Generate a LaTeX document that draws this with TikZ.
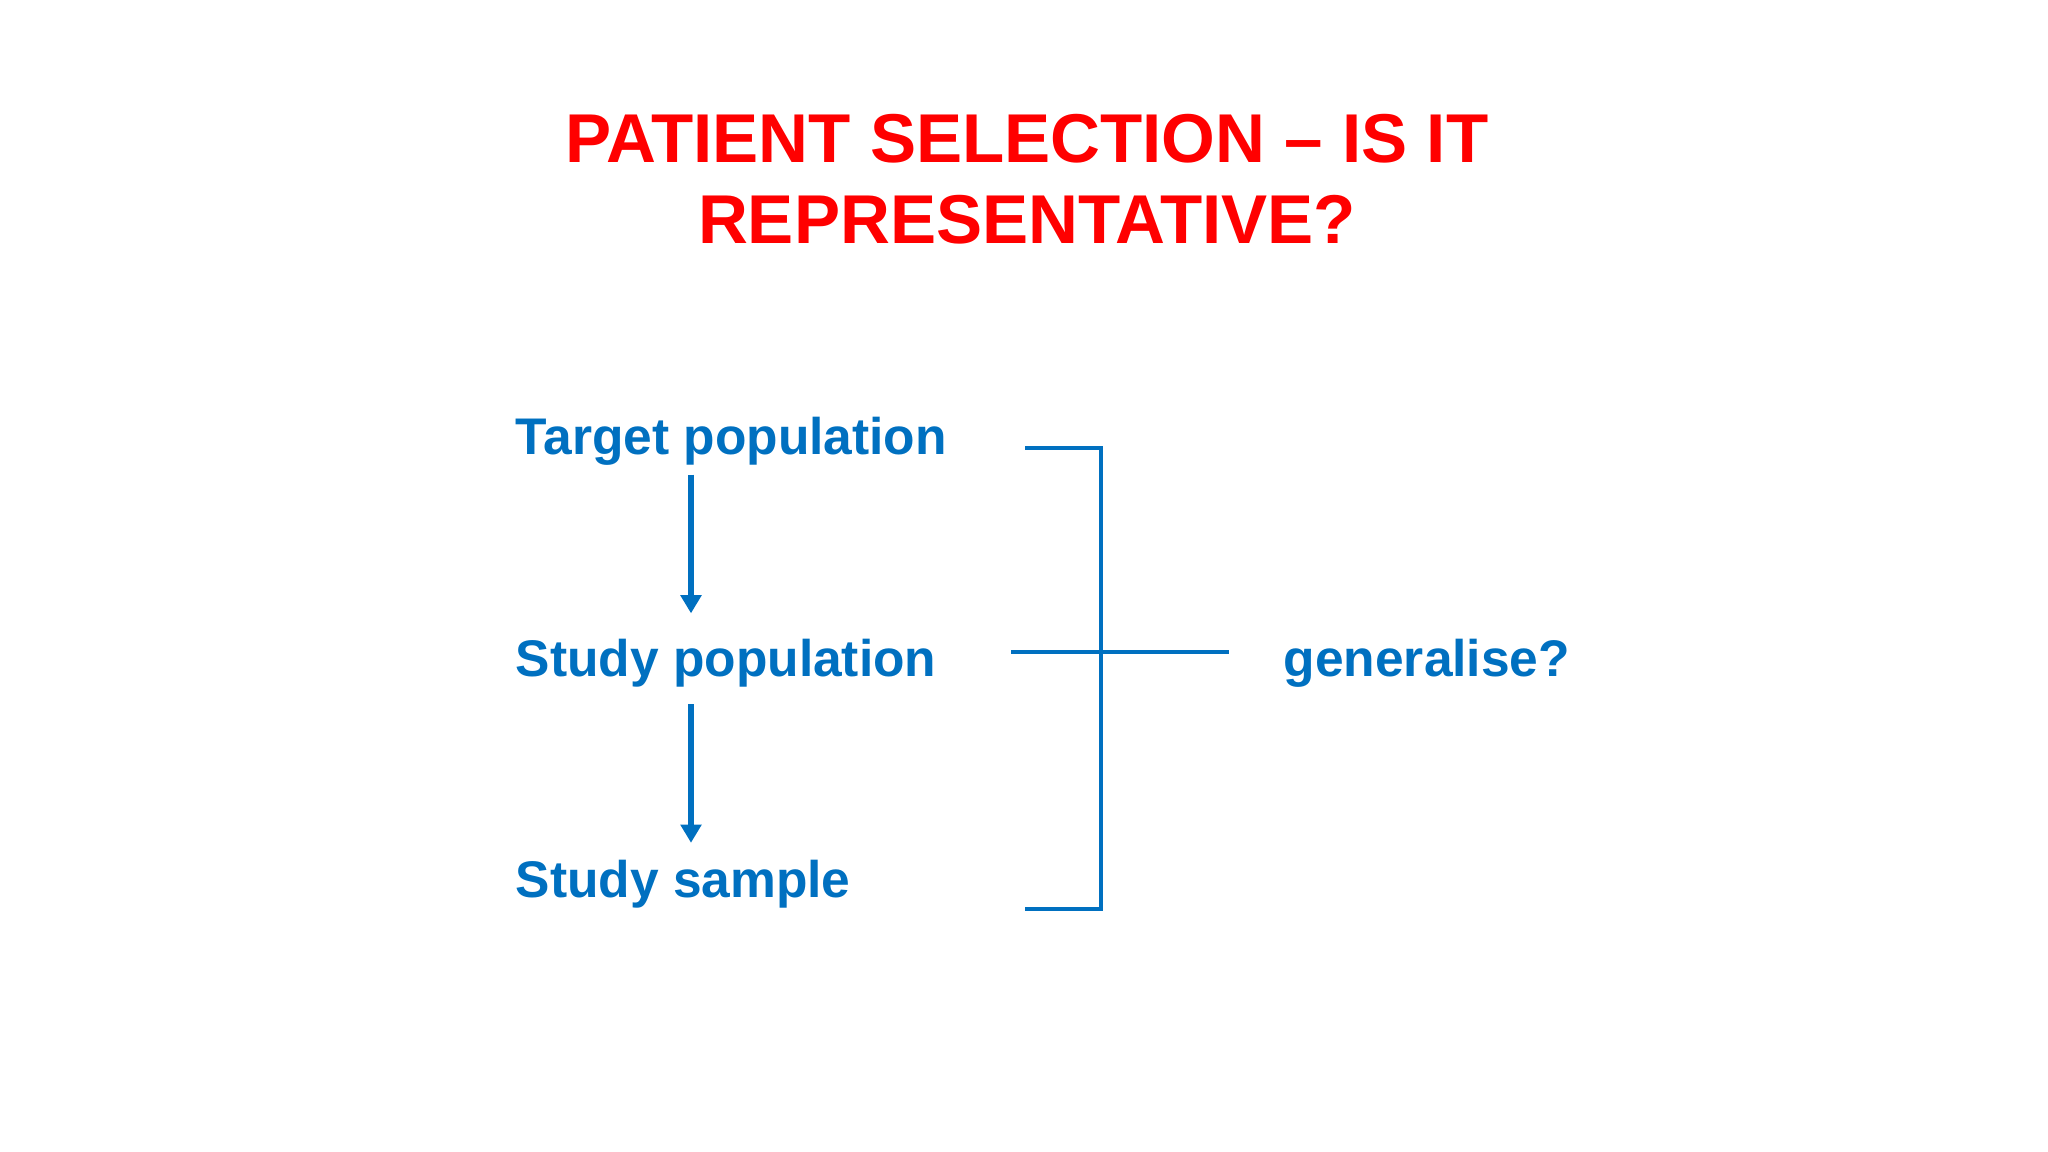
\documentclass[tikz,border=0pt]{standalone}
\usepackage{fontspec}
\setmainfont{Liberation Sans}
\usepackage{tikz}
\usetikzlibrary{arrows.meta}
\usetikzlibrary{positioning}

\definecolor{slideblue}{HTML}{0070C0}
\definecolor{slidered}{HTML}{FF0000}

\tikzset{
    titletext/.style={anchor=base,inner sep=0pt,text=slidered,
        font=\fontsize{19.65}{23}\selectfont\bfseries},
    labeltext/.style={anchor=base west,inner sep=0pt,text=slideblue,
        font=\fontsize{14.65}{17}\selectfont\bfseries},
    bline/.style={draw=slideblue,line width=1.35pt},
    darrow/.style={draw=slideblue,line width=1.9pt,-{Triangle[width=5.8pt,length=5.2pt]}}
}

\begin{document}
\begin{tikzpicture}[x=0.01cm,y=-0.01cm]
            \useasboundingbox (0,0) rectangle (2048,1152);

            % title
            \node[titletext] (title1) at (1027,163) {PATIENT SELECTION – IS IT};
            \node[titletext] (title2) at (1027,244) {REPRESENTATIVE?};

            % the three populations
            \foreach \nm/\y/\lab in {tgt/455/Target population,spop/676/Study population,ssam/897/Study sample}{
                \node[labeltext] (\nm) at (515,\y) {\lab};
            }
            \coordinate (axis) at (691,0);
            \draw[darrow,shorten <=2.3pt,shorten >=7pt] (tgt.south -| axis) -- (spop.north -| axis);
            \draw[darrow,shorten <=4.8pt,shorten >=4.6pt] (spop.south -| axis) -- (ssam.north -| axis);

            % bracket
            \coordinate (brTopL) at (1025,448);
            \coordinate (brTopR) at (1101,448);
            \coordinate (brBotR) at (1101,909);
            \coordinate (brBotL) at (1025,909);
            \coordinate (brMidL) at (1011,652);
            \coordinate (brMidR) at (1229,652);
            \draw[bline] (brTopL) -- (brTopR) -- (brBotR) -- (brBotL);
            \draw[bline] (brMidL) -- (brMidR);

            \node[labeltext] (gen) at (1283,676) {generalise?};
        \end{tikzpicture}
\end{document}
